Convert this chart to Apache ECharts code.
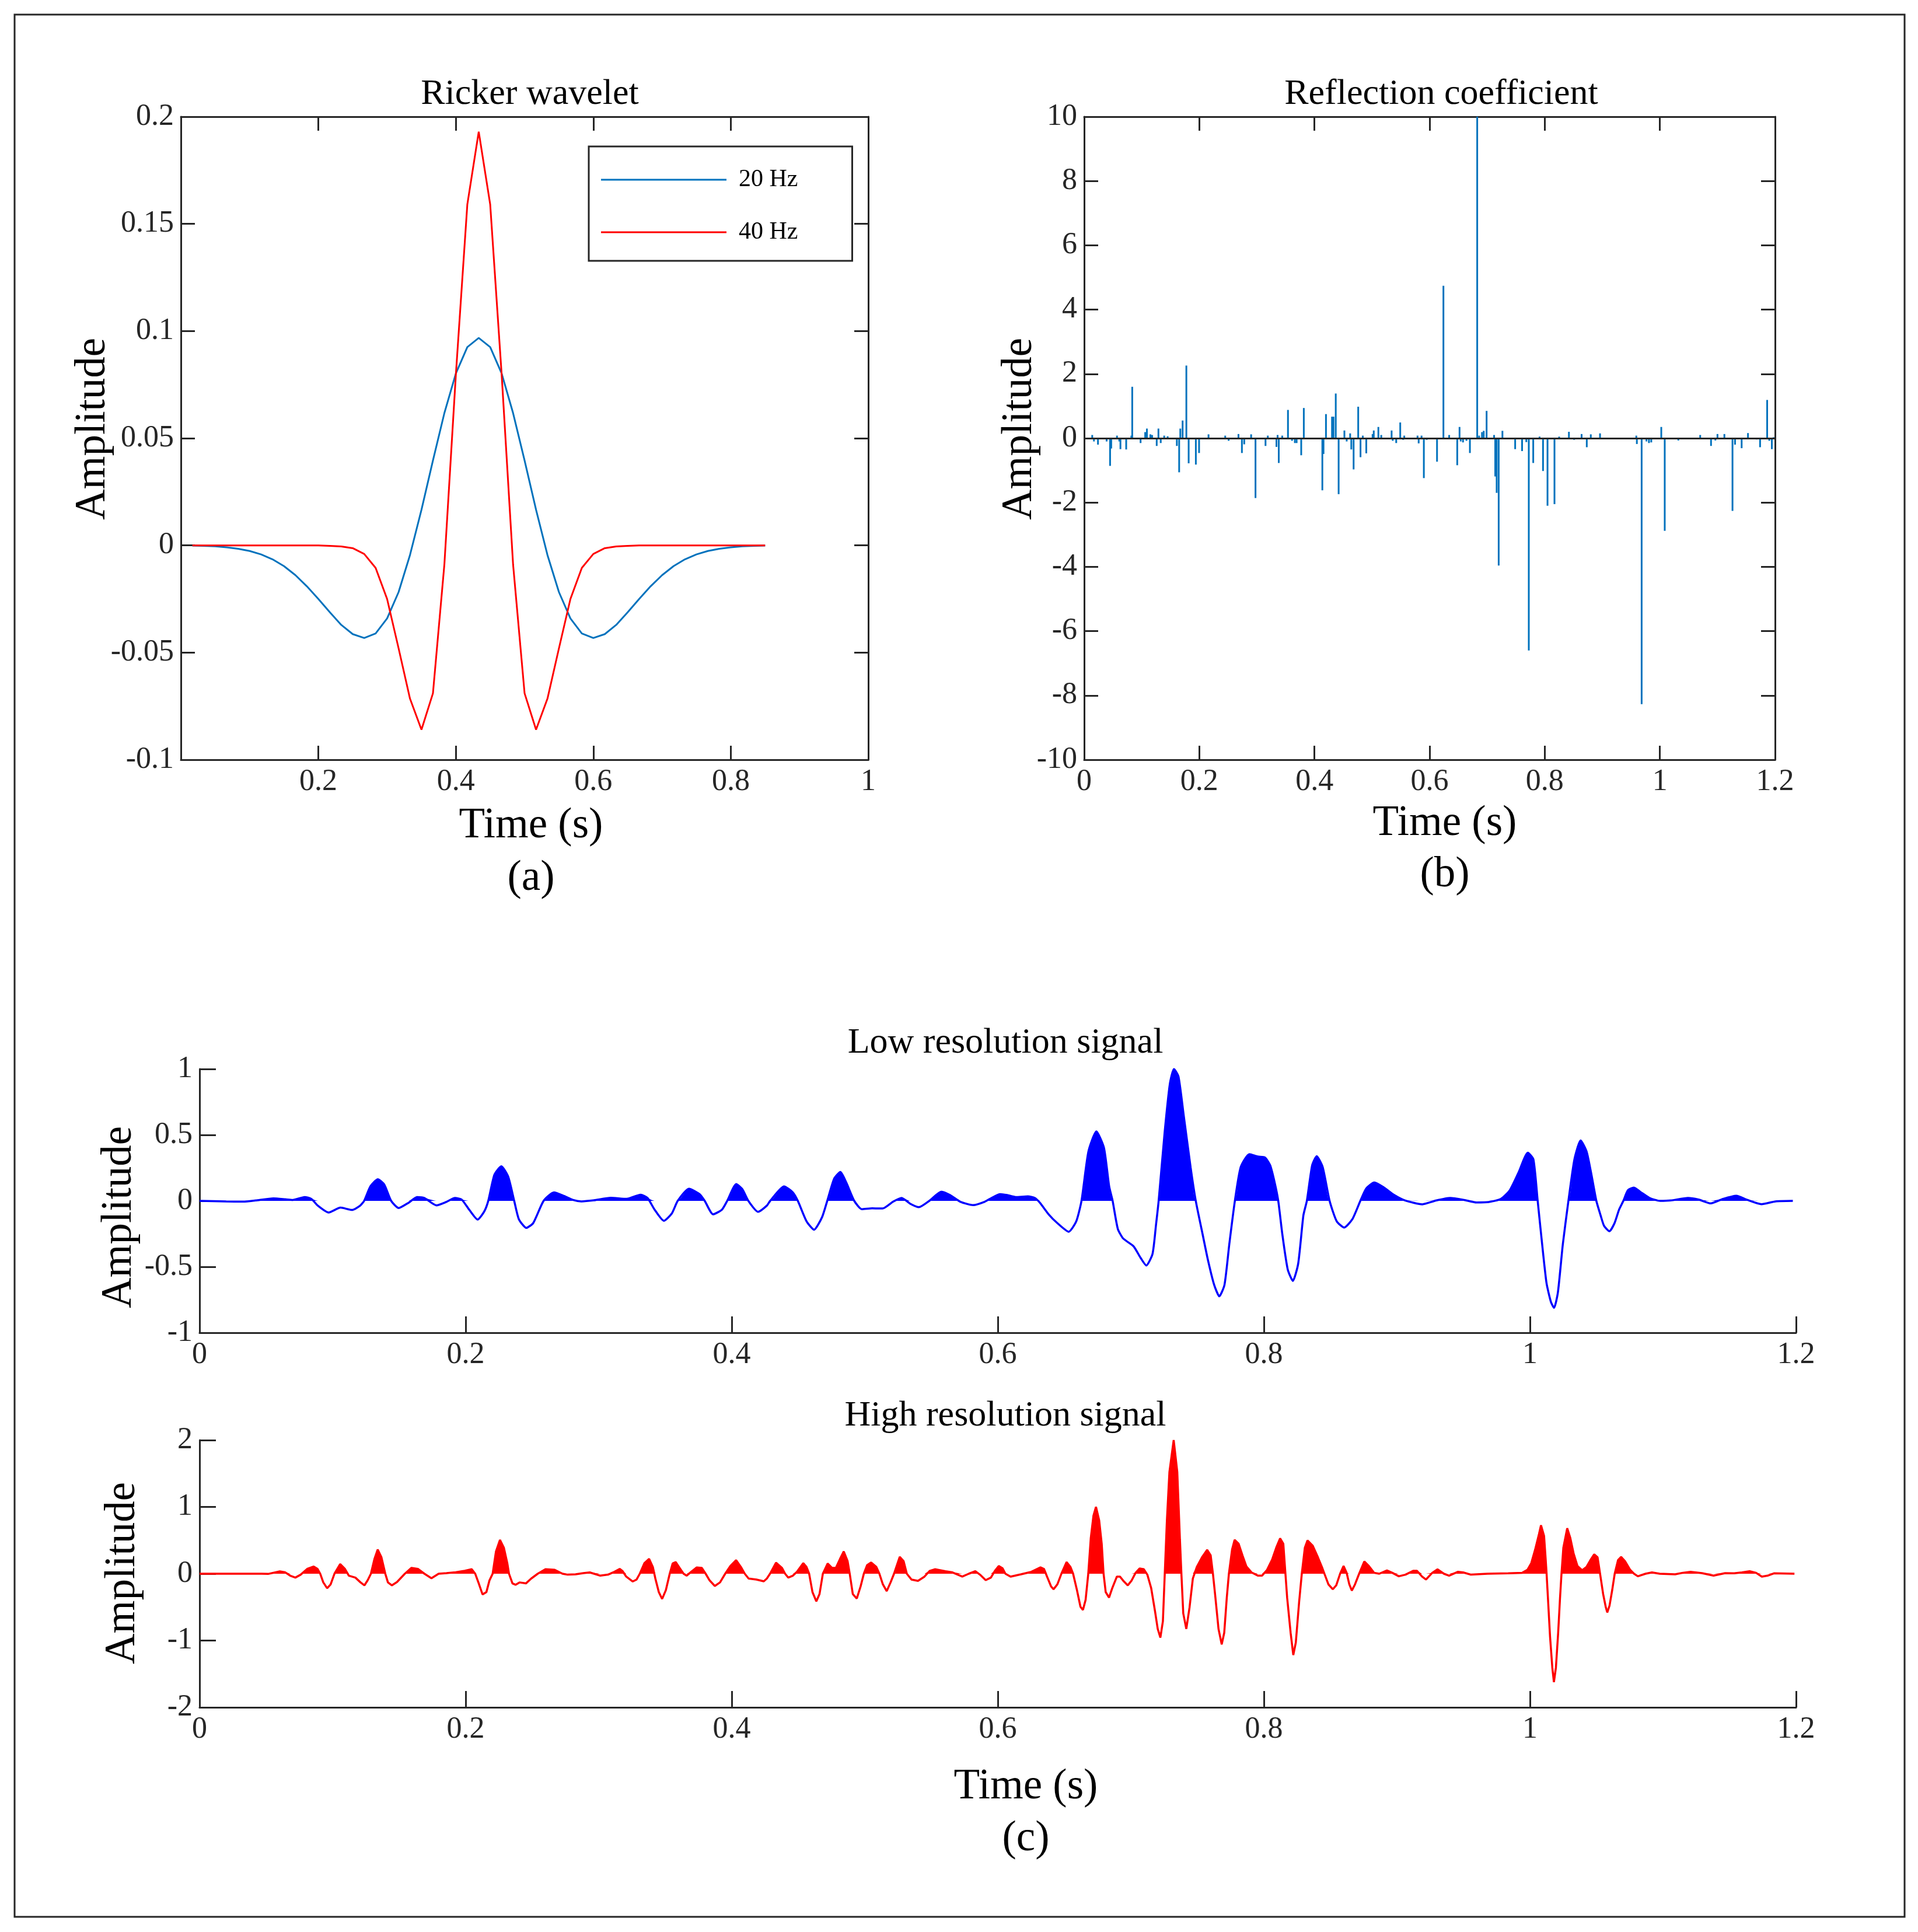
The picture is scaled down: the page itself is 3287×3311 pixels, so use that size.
<!DOCTYPE html>
<html>
<head>
<meta charset="utf-8">
<script src="https://cdn.jsdelivr.net/npm/echarts@6/dist/echarts.min.js"></script>
<style>
  html, body { margin: 0; padding: 0; background: #fff; }
  #chart { width: 3287px; height: 3311px; }
</style>
</head>
<body>
<div id="chart"></div>
<script>
// ---- data ----
const rickerTime = [0.0167, 0.0333, 0.05, 0.0667, 0.0833, 0.1, 0.1167, 0.1333, 0.15, 0.1667, 0.1833, 0.2, 0.2167, 0.2333, 0.25, 0.2667, 0.2833, 0.3, 0.3167, 0.3333, 0.35, 0.3667, 0.3833, 0.4, 0.4167, 0.4333, 0.45, 0.4667, 0.4833, 0.5, 0.5167, 0.5333, 0.55, 0.5667, 0.5833, 0.6, 0.6167, 0.6333, 0.65, 0.6667, 0.6833, 0.7, 0.7167, 0.7333, 0.75, 0.7667, 0.7833, 0.8, 0.8167, 0.8333, 0.85];
const ricker20 = [-0.0001, -0.0002, -0.0004, -0.0009, -0.0016, -0.0026, -0.0042, -0.0065, -0.0097, -0.0139, -0.0191, -0.025, -0.0312, -0.0371, -0.0414, -0.0432, -0.0411, -0.0341, -0.0218, -0.0045, 0.0166, 0.0396, 0.0617, 0.0802, 0.0925, 0.0968, 0.0925, 0.0802, 0.0617, 0.0396, 0.0166, -0.0045, -0.0218, -0.0341, -0.0411, -0.0432, -0.0414, -0.0371, -0.0312, -0.025, -0.0191, -0.0139, -0.0097, -0.0065, -0.0042, -0.0026, -0.0016, -0.0009, -0.0004, -0.0002, -0.0001];
const ricker40 = [0, 0, 0, 0, 0, 0, 0, 0, 0, 0, 0, 0, -0.0002, -0.0005, -0.0013, -0.004, -0.0105, -0.025, -0.048, -0.0715, -0.086, -0.069, -0.009, 0.0795, 0.159, 0.193, 0.159, 0.0795, -0.009, -0.069, -0.086, -0.0715, -0.048, -0.025, -0.0105, -0.004, -0.0013, -0.0005, -0.0002, 0, 0, 0, 0, 0, 0, 0, 0, 0, 0, 0, 0];

const reflTime = [0.014, 0.017, 0.024, 0.039, 0.045, 0.047, 0.057, 0.061, 0.063, 0.073, 0.082, 0.0835, 0.098, 0.106, 0.109, 0.115, 0.118, 0.126, 0.129, 0.133, 0.139, 0.145, 0.161, 0.165, 0.167, 0.171, 0.1775, 0.1815, 0.194, 0.1996, 0.216, 0.245, 0.251, 0.268, 0.274, 0.278, 0.29, 0.2976, 0.315, 0.319, 0.334, 0.336, 0.338, 0.344, 0.354, 0.361, 0.366, 0.369, 0.377, 0.3815, 0.4137, 0.4157, 0.42, 0.4305, 0.433, 0.437, 0.442, 0.452, 0.456, 0.462, 0.464, 0.468, 0.476, 0.48, 0.484, 0.49, 0.501, 0.503, 0.511, 0.516, 0.534, 0.536, 0.542, 0.549, 0.554, 0.556, 0.579, 0.581, 0.586, 0.59, 0.595, 0.6129, 0.624, 0.634, 0.648, 0.652, 0.654, 0.658, 0.664, 0.67, 0.6827, 0.686, 0.691, 0.694, 0.699, 0.712, 0.714, 0.7165, 0.72, 0.7265, 0.7486, 0.7606, 0.768, 0.7723, 0.78, 0.791, 0.797, 0.8048, 0.8169, 0.825, 0.842, 0.851, 0.864, 0.873, 0.88, 0.896, 0.959, 0.96, 0.9683, 0.9767, 0.981, 0.985, 1.0024, 1.0084, 1.032, 1.07, 1.0888, 1.0964, 1.1, 1.112, 1.1261, 1.1305, 1.142, 1.153, 1.168, 1.174, 1.1863, 1.19, 1.1944, 1.1976];
const reflValue = [0.1, -0.1, -0.2, -0.1, -0.86, -0.32, 0.08, -0.1, -0.34, -0.35, 0.08, 1.6, -0.15, 0.19, 0.3, 0.12, 0.1, -0.24, 0.3, -0.15, 0.08, 0.06, -0.24, -1.06, 0.3, 0.55, 2.26, -0.78, -0.82, -0.46, 0.12, 0.08, -0.08, 0.13, -0.46, -0.19, 0.12, -1.86, -0.24, 0.08, -0.27, 0.1, -0.77, 0.08, 0.88, -0.08, -0.15, -0.15, -0.53, 0.94, -1.62, -0.49, 0.75, 0.67, 0.67, 1.39, -1.74, 0.24, -0.1, 0.15, -0.35, -0.97, 0.98, -0.59, 0.08, -0.47, 0.13, 0.24, 0.35, 0.1, 0.24, -0.08, -0.15, 0.49, -0.05, 0.08, 0.08, -0.16, 0.08, -1.24, -0.05, -0.73, 4.74, 0.1, -0.84, 0.35, -0.1, -0.13, -0.08, -0.46, 10, 0.08, 0.19, 0.23, 0.85, 0.1, -1.19, -1.7, -3.96, 0.23, -0.34, -0.4, -0.12, -6.6, -0.77, 0.05, -1.02, -2.1, -2.05, 0.05, 0.2, -0.05, 0.13, -0.28, 0.12, 0.15, 0.08, -0.18, -8.27, -0.1, -0.15, -0.13, 0.35, -2.88, -0.07, 0.1, -0.24, -0.07, 0.13, 0.13, -2.26, -0.2, -0.31, 0.16, -0.04, -0.28, 1.19, -0.08, -0.34, 0.03];

const lowTime = [0, 0.02, 0.033, 0.042, 0.0555, 0.0646, 0.07, 0.079, 0.084, 0.089, 0.097, 0.106, 0.1146, 0.1206, 0.1237, 0.1284, 0.134, 0.1388, 0.144, 0.1497, 0.157, 0.1635, 0.169, 0.178, 0.1857, 0.192, 0.197, 0.2026, 0.209, 0.214, 0.217, 0.2216, 0.2268, 0.232, 0.2365, 0.24, 0.2456, 0.2508, 0.2586, 0.2664, 0.274, 0.2807, 0.287, 0.2964, 0.309, 0.321, 0.3315, 0.3367, 0.342, 0.349, 0.355, 0.3594, 0.368, 0.3758, 0.3797, 0.386, 0.3927, 0.3966, 0.4034, 0.408, 0.4125, 0.4198, 0.4263, 0.4289, 0.4393, 0.4458, 0.4497, 0.4562, 0.4619, 0.4679, 0.4718, 0.477, 0.4817, 0.4861, 0.4921, 0.4978, 0.5056, 0.5134, 0.5212, 0.5277, 0.5342, 0.5407, 0.5485, 0.5576, 0.5641, 0.5719, 0.5815, 0.5901, 0.5953, 0.6018, 0.607, 0.6135, 0.6226, 0.6278, 0.6317, 0.6382, 0.6447, 0.6533, 0.659, 0.6629, 0.6681, 0.6741, 0.6798, 0.6837, 0.6863, 0.6902, 0.6942, 0.702, 0.7072, 0.7116, 0.7163, 0.7189, 0.7209, 0.7254, 0.7293, 0.7324, 0.7358, 0.7397, 0.7449, 0.7488, 0.754, 0.7579, 0.7626, 0.7665, 0.7704, 0.774, 0.7782, 0.7826, 0.7891, 0.7956, 0.8008, 0.8047, 0.8081, 0.8108, 0.8139, 0.8179, 0.8218, 0.8258, 0.8297, 0.8323, 0.8363, 0.8397, 0.8442, 0.8494, 0.8547, 0.8604, 0.8665, 0.8725, 0.877, 0.883, 0.8901, 0.898, 0.9059, 0.9191, 0.9296, 0.9401, 0.9506, 0.9598, 0.969, 0.9782, 0.9848, 0.9913, 0.9984, 1.0026, 1.0058, 1.0084, 1.0124, 1.0158, 1.0181, 1.021, 1.0247, 1.0289, 1.0334, 1.0381, 1.0426, 1.0465, 1.0499, 1.0531, 1.0557, 1.0597, 1.0636, 1.067, 1.0702, 1.0736, 1.0781, 1.0833, 1.0899, 1.0978, 1.1057, 1.1188, 1.1267, 1.1359, 1.1451, 1.1551, 1.1635, 1.174, 1.1845, 1.1976];
const lowValue = [0, -0.004, -0.006, 0.003, 0.019, 0.012, 0.007, 0.029, 0.015, -0.037, -0.088, -0.051, -0.069, -0.037, 0, 0.11, 0.164, 0.124, 0, -0.054, -0.015, 0.029, 0.022, -0.034, -0.007, 0.022, 0.01, -0.066, -0.142, -0.08, 0, 0.197, 0.262, 0.183, 0, -0.139, -0.205, -0.168, 0, 0.064, 0.037, 0.007, -0.004, 0.004, 0.023, 0.015, 0.047, 0.022, -0.066, -0.151, -0.095, 0, 0.092, 0.051, 0, -0.102, -0.066, 0, 0.127, 0.088, 0, -0.083, -0.037, 0, 0.11, 0.066, 0, -0.154, -0.219, -0.124, 0, 0.168, 0.219, 0.139, 0, -0.063, -0.056, -0.058, -0.007, 0.022, -0.022, -0.048, 0, 0.07, 0.044, -0.007, -0.032, -0.007, 0.022, 0.051, 0.044, 0.029, 0.034, 0.022, -0.015, -0.102, -0.168, -0.234, -0.154, 0, 0.373, 0.526, 0.402, 0.11, 0, -0.212, -0.285, -0.344, -0.43, -0.49, -0.402, -0.183, 0, 0.519, 0.885, 1.0, 0.943, 0.651, 0.256, 0, -0.256, -0.446, -0.636, -0.724, -0.636, -0.329, 0, 0.256, 0.354, 0.336, 0.329, 0.27, 0.139, 0, -0.256, -0.519, -0.607, -0.475, -0.11, 0, 0.27, 0.339, 0.256, 0, -0.154, -0.202, -0.139, 0, 0.095, 0.139, 0.102, 0.044, 0.004, -0.026, 0.003, 0.022, 0.007, -0.012, -0.009, 0.015, 0.08, 0.212, 0.365, 0.314, 0, -0.256, -0.621, -0.768, -0.811, -0.694, -0.329, 0, 0.314, 0.458, 0.373, 0.183, 0, -0.11, -0.19, -0.23, -0.168, -0.066, 0, 0.08, 0.101, 0.066, 0.022, 0, 0.003, 0.022, 0.01, -0.019, 0.015, 0.039, 0.007, -0.025, -0.004, 0];

const highTime = [0, 0.0466, 0.0515, 0.0603, 0.0642, 0.0681, 0.072, 0.076, 0.0809, 0.0858, 0.0887, 0.0907, 0.093, 0.0959, 0.0985, 0.1014, 0.1057, 0.1093, 0.1122, 0.1171, 0.121, 0.1239, 0.1263, 0.1288, 0.1314, 0.1339, 0.1367, 0.1396, 0.1416, 0.1445, 0.1484, 0.1543, 0.1592, 0.1641, 0.169, 0.1743, 0.1797, 0.1856, 0.1925, 0.1993, 0.2046, 0.2072, 0.2101, 0.2127, 0.2156, 0.2179, 0.2203, 0.2228, 0.2258, 0.2287, 0.2313, 0.2326, 0.2352, 0.2375, 0.2405, 0.2453, 0.2493, 0.2542, 0.26, 0.2669, 0.2728, 0.2767, 0.2826, 0.2884, 0.2933, 0.3012, 0.307, 0.3109, 0.3158, 0.3178, 0.3207, 0.3256, 0.3285, 0.3309, 0.3344, 0.3379, 0.3407, 0.3426, 0.3452, 0.3477, 0.3505, 0.3534, 0.3556, 0.3579, 0.3608, 0.3638, 0.3661, 0.3696, 0.3736, 0.3775, 0.3804, 0.3834, 0.3873, 0.3912, 0.3951, 0.399, 0.4033, 0.4069, 0.4098, 0.4127, 0.4186, 0.4241, 0.4264, 0.4288, 0.4333, 0.4378, 0.4401, 0.4425, 0.446, 0.449, 0.4538, 0.4562, 0.4582, 0.4607, 0.4636, 0.466, 0.4685, 0.4721, 0.4754, 0.4783, 0.4813, 0.4842, 0.4871, 0.4887, 0.491, 0.494, 0.4969, 0.4993, 0.5018, 0.5048, 0.5087, 0.511, 0.5136, 0.5165, 0.5194, 0.522, 0.5263, 0.5292, 0.5316, 0.5351, 0.54, 0.5449, 0.5488, 0.5527, 0.5606, 0.5655, 0.5733, 0.5782, 0.5831, 0.5866, 0.5909, 0.5948, 0.5978, 0.6007, 0.6036, 0.6057, 0.6096, 0.6174, 0.6253, 0.6321, 0.6347, 0.637, 0.64, 0.6419, 0.6448, 0.6478, 0.6517, 0.6546, 0.6566, 0.6595, 0.6621, 0.664, 0.666, 0.668, 0.6699, 0.6719, 0.6738, 0.6762, 0.6781, 0.6795, 0.6811, 0.6836, 0.686, 0.6895, 0.6918, 0.6948, 0.6977, 0.7006, 0.7036, 0.7065, 0.7098, 0.7124, 0.7153, 0.7182, 0.7202, 0.7222, 0.7241, 0.7255, 0.7271, 0.729, 0.7322, 0.7349, 0.7369, 0.738, 0.7394, 0.7417, 0.7441, 0.7466, 0.7496, 0.7535, 0.7574, 0.76, 0.7617, 0.7633, 0.7659, 0.7683, 0.7702, 0.7721, 0.7737, 0.7761, 0.778, 0.781, 0.7839, 0.7869, 0.7907, 0.7956, 0.7986, 0.8024, 0.8063, 0.8093, 0.8122, 0.8146, 0.8162, 0.8175, 0.8201, 0.8221, 0.824, 0.8265, 0.8285, 0.8308, 0.8328, 0.8367, 0.8406, 0.8436, 0.8455, 0.8485, 0.8518, 0.8544, 0.8573, 0.8599, 0.8622, 0.8642, 0.8661, 0.8685, 0.8716, 0.8755, 0.8789, 0.8828, 0.8867, 0.8925, 0.8965, 0.9014, 0.9064, 0.9122, 0.9151, 0.9189, 0.9218, 0.9266, 0.9305, 0.9353, 0.9392, 0.9459, 0.9498, 0.9556, 0.9681, 0.9836, 0.9942, 0.9981, 1.001, 1.0039, 1.0068, 1.0083, 1.0106, 1.0118, 1.0125, 1.0135, 1.0151, 1.0168, 1.018, 1.0195, 1.0212, 1.0226, 1.0237, 1.0251, 1.028, 1.0303, 1.0328, 1.0357, 1.0392, 1.0425, 1.0454, 1.0483, 1.0508, 1.0527, 1.055, 1.0569, 1.0581, 1.0598, 1.0618, 1.0637, 1.0662, 1.0685, 1.0714, 1.0753, 1.0782, 1.0811, 1.0869, 1.0917, 1.0975, 1.1091, 1.1149, 1.1207, 1.1293, 1.138, 1.1467, 1.1535, 1.1593, 1.1651, 1.1699, 1.1743, 1.1786, 1.1834, 1.1988];
const highValue = [0, 0, -0.003, 0.035, 0.023, -0.029, -0.058, -0.014, 0.072, 0.107, 0.072, 0, -0.13, -0.217, -0.16, 0, 0.145, 0.072, -0.029, -0.058, -0.13, -0.174, -0.101, 0, 0.217, 0.362, 0.246, 0, -0.13, -0.174, -0.125, 0, 0.087, 0.072, 0, -0.067, 0, 0.009, 0.023, 0.043, 0.067, 0, -0.159, -0.31, -0.275, -0.101, 0, 0.333, 0.507, 0.391, 0.159, 0, -0.145, -0.165, -0.13, -0.145, -0.072, 0, 0.067, 0.058, 0, -0.014, -0.009, 0.009, 0.02, -0.029, -0.014, 0.02, 0.072, 0.043, -0.043, -0.116, -0.087, 0, 0.159, 0.223, 0.101, -0.072, -0.275, -0.377, -0.246, 0, 0.154, 0.174, 0.087, 0, -0.029, 0.029, 0.093, 0.087, 0, -0.101, -0.183, -0.13, 0, 0.116, 0.203, 0.101, 0, -0.072, -0.087, -0.113, -0.072, 0, 0.165, 0.087, 0, -0.058, -0.029, 0.029, 0.159, 0.101, 0, -0.275, -0.414, -0.304, 0, 0.154, 0.087, 0.087, 0.217, 0.333, 0.188, 0, -0.304, -0.371, -0.188, 0, 0.13, 0.168, 0.101, 0, -0.159, -0.261, -0.13, 0, 0.252, 0.188, 0, -0.087, -0.107, -0.043, 0.043, 0.067, 0.038, 0.023, -0.043, 0, 0.038, -0.014, -0.096, -0.058, 0.043, 0.116, 0.08, 0, -0.043, -0.009, 0.029, 0.096, 0.072, -0.043, -0.188, -0.232, -0.159, 0, 0.174, 0.101, 0, -0.246, -0.493, -0.542, -0.391, 0, 0.536, 0.87, 1.0, 0.797, 0.449, 0, -0.275, -0.357, -0.217, -0.043, -0.043, -0.116, -0.174, -0.101, 0.014, 0.078, 0.067, -0.014, -0.217, -0.565, -0.826, -0.957, -0.71, 0, 0.797, 1.522, 2.0, 1.522, 0.507, 0, -0.594, -0.826, -0.507, -0.072, 0.101, 0.246, 0.357, 0.275, 0, -0.304, -0.826, -1.058, -0.884, -0.362, 0, 0.362, 0.507, 0.449, 0.275, 0.107, 0.02, -0.029, -0.029, 0.058, 0.217, 0.391, 0.53, 0.449, 0, -0.362, -0.884, -1.217, -1.029, -0.42, 0, 0.391, 0.499, 0.42, 0.246, 0.101, 0, -0.159, -0.232, -0.174, 0, 0.116, 0.014, -0.159, -0.252, -0.159, 0, 0.183, 0.116, 0.014, 0, 0.049, 0.014, -0.038, -0.014, 0.043, 0.043, -0.043, -0.087, 0.014, 0.067, 0, -0.029, 0.029, 0.02, -0.014, 0, 0.006, 0.014, 0.058, 0.159, 0.362, 0.594, 0.725, 0.565, 0.217, 0, -0.362, -0.942, -1.406, -1.623, -1.406, -0.884, -0.362, 0, 0.391, 0.681, 0.536, 0.304, 0.116, 0.052, 0.101, 0.203, 0.29, 0.246, 0, -0.304, -0.493, -0.58, -0.478, -0.246, 0, 0.203, 0.252, 0.188, 0.058, 0, -0.038, 0, 0.02, 0, -0.009, 0.014, 0.029, 0.009, -0.029, 0.009, 0.006, 0.02, 0.038, 0.014, -0.043, -0.029, 0.006, 0];

// ---- helpers ----
const FONT = "'Liberation Serif', 'Times New Roman', serif";
const AXIS_COLOR = '#262626';
const pairs = (xs, ys) => xs.map((x, i) => [x, ys[i]]);
const positive = (xs, ys) => xs.map((x, i) => [x, Math.max(ys[i], 0)]);

const axisBase = (extra) => Object.assign({
  type: 'value',
  splitLine: { show: false },
  axisLine: { onZero: false, lineStyle: { color: AXIS_COLOR, width: 3 } },
  axisTick: { inside: true, length: 24, lineStyle: { color: AXIS_COLOR, width: 3 } },
  axisLabel: { fontFamily: FONT, fontSize: 52, color: AXIS_COLOR, margin: 12 }
}, extra);
const mirrorAxis = (extra) => axisBase(Object.assign({ axisLabel: { show: false } }, extra));

const text = (str, x, y, size, rot) => ({
  type: 'text', x: x, y: y, rotation: rot || 0, silent: true,
  style: { text: str, x: 0, y: 0, fontFamily: FONT, fontSize: size, fill: '#000',
    textAlign: 'center', textVerticalAlign: 'middle' }
});

const chart = echarts.init(document.getElementById('chart'), null, { renderer: 'canvas' });

const option = {
  backgroundColor: '#fff',
  animation: false,
  grid: [
    { left: 310, top: 200, width: 1178, height: 1102 },
    { left: 1858, top: 200, width: 1184, height: 1102 },
    { left: 342, top: 1832, width: 2736, height: 452 },
    { left: 342, top: 2468, width: 2736, height: 458 }
  ],
  xAxis: [
    axisBase({ gridIndex: 0, min: 0, max: 1, interval: 0.2, position: 'bottom',
      axisLabel: { fontFamily: FONT, fontSize: 52, color: AXIS_COLOR, margin: 12,
        formatter: (v) => (v === 0 ? '' : v) } }),
    mirrorAxis({ gridIndex: 0, min: 0, max: 1, interval: 0.2, position: 'top' }),
    axisBase({ gridIndex: 1, min: 0, max: 1.2, interval: 0.2, position: 'bottom' }),
    mirrorAxis({ gridIndex: 1, min: 0, max: 1.2, interval: 0.2, position: 'top' }),
    axisBase({ gridIndex: 2, min: 0, max: 1.2, interval: 0.2, position: 'bottom',
      axisTick: { inside: true, length: 28, lineStyle: { color: AXIS_COLOR, width: 3 } } }),
    axisBase({ gridIndex: 3, min: 0, max: 1.2, interval: 0.2, position: 'bottom',
      axisTick: { inside: true, length: 28, lineStyle: { color: AXIS_COLOR, width: 3 } } })
  ],
  yAxis: [
    axisBase({ gridIndex: 0, min: -0.1, max: 0.2, interval: 0.05, position: 'left' }),
    mirrorAxis({ gridIndex: 0, min: -0.1, max: 0.2, interval: 0.05, position: 'right' }),
    axisBase({ gridIndex: 1, min: -10, max: 10, interval: 2, position: 'left' }),
    mirrorAxis({ gridIndex: 1, min: -10, max: 10, interval: 2, position: 'right' }),
    axisBase({ gridIndex: 2, min: -1, max: 1, interval: 0.5, position: 'left',
      axisTick: { inside: true, length: 28, lineStyle: { color: AXIS_COLOR, width: 3 } } }),
    axisBase({ gridIndex: 3, min: -2, max: 2, interval: 1, position: 'left',
      axisTick: { inside: true, length: 28, lineStyle: { color: AXIS_COLOR, width: 3 } } })
  ],
  legend: {
    data: ['20 Hz', '40 Hz'],
    orient: 'vertical',
    left: 1009, top: 251,
    padding: [36, 93, 28, 21],
    itemGap: 48,
    icon: 'rect',
    itemWidth: 215, itemHeight: 3,
    borderColor: AXIS_COLOR, borderWidth: 3,
    backgroundColor: '#fff',
    textStyle: { fontFamily: FONT, fontSize: 42, color: '#000', padding: [0, 0, 0, 16] }
  },
  series: [
    // (a) Ricker wavelets
    { name: '20 Hz', type: 'line', xAxisIndex: 0, yAxisIndex: 0, showSymbol: false,
      data: pairs(rickerTime, ricker20), color: '#0072BD', lineStyle: { width: 3, color: '#0072BD' } },
    { name: '40 Hz', type: 'line', xAxisIndex: 0, yAxisIndex: 0, showSymbol: false,
      data: pairs(rickerTime, ricker40), color: '#FF0000', lineStyle: { width: 3, color: '#FF0000' } },
    // (b) reflection coefficient stems
    { type: 'bar', xAxisIndex: 2, yAxisIndex: 2, barWidth: 3,
      data: pairs(reflTime, reflValue), itemStyle: { color: '#0072BD' },
      markLine: { silent: true, symbol: ['none', 'none'], label: { show: false },
        lineStyle: { color: AXIS_COLOR, width: 3, type: 'solid' }, data: [{ yAxis: 0 }] } },
    // (c) low resolution: positive fill + trace
    { type: 'line', xAxisIndex: 4, yAxisIndex: 4, showSymbol: false, smooth: 0.2,
      data: positive(lowTime, lowValue), lineStyle: { width: 0 },
      areaStyle: { color: '#0000FF', opacity: 1 } },
    { type: 'line', xAxisIndex: 4, yAxisIndex: 4, showSymbol: false, smooth: 0.2,
      data: pairs(lowTime, lowValue), lineStyle: { width: 3.5, color: '#0000FF' } },
    // (c) high resolution: positive fill + trace
    { type: 'line', xAxisIndex: 5, yAxisIndex: 5, showSymbol: false,
      data: positive(highTime, highValue), lineStyle: { width: 0 },
      areaStyle: { color: '#FF0000', opacity: 1 } },
    { type: 'line', xAxisIndex: 5, yAxisIndex: 5, showSymbol: false,
      data: pairs(highTime, highValue), lineStyle: { width: 3.5, color: '#FF0000' } }
  ],
  graphic: [
    { type: 'rect', silent: true, shape: { x: 25, y: 25, width: 3239, height: 3260 },
      style: { fill: 'none', stroke: AXIS_COLOR, lineWidth: 3 } },
    text('Ricker wavelet', 908, 162, 62),
    text('Amplitude', 160, 735, 73, Math.PI / 2),
    text('Time (s)', 910, 1416, 73),
    text('(a)', 910, 1506, 73),
    text('Reflection coefficient', 2470, 162, 62),
    text('Amplitude', 1748, 735, 73, Math.PI / 2),
    text('Time (s)', 2476, 1412, 73),
    text('(b)', 2476, 1500, 73),
    text('Low resolution signal', 1723, 1788, 62),
    text('Amplitude', 205, 2086, 73, Math.PI / 2),
    text('High resolution signal', 1723, 2427, 62),
    text('Amplitude', 211, 2696, 73, Math.PI / 2),
    text('Time (s)', 1758, 3063, 73),
    text('(c)', 1758, 3152, 73)
  ]
};

chart.setOption(option);
window.addEventListener('resize', () => chart.resize());
</script>
</body>
</html>
